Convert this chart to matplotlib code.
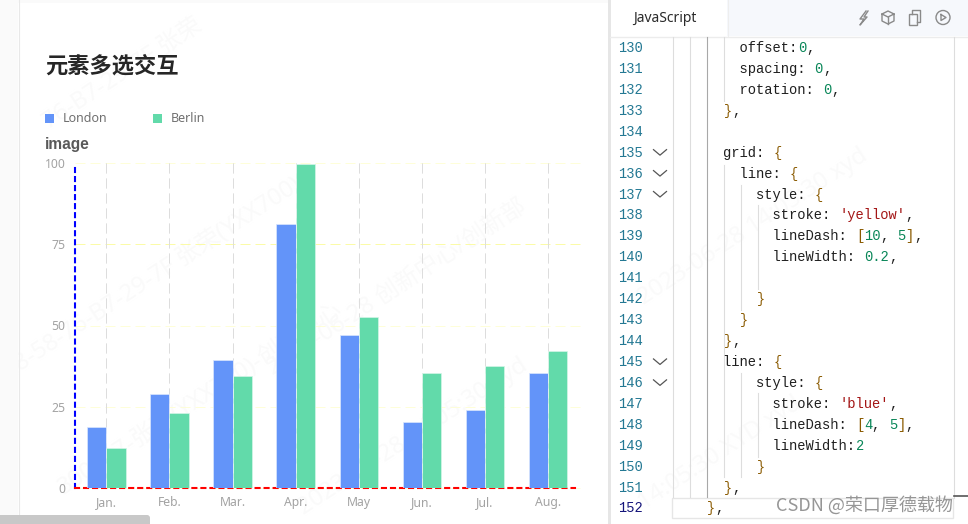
import re

import matplotlib
matplotlib.use('Agg')
import matplotlib.pyplot as plt
from matplotlib.patches import FancyBboxPatch, Rectangle, Circle

plt.rcParams['font.family'] = ['Noto Sans', 'Noto Sans CJK SC', 'DejaVu Sans']
plt.rcParams['lines.scale_dashes'] = False

months = ['Jan.', 'Feb.', 'Mar.', 'Apr.', 'May', 'Jun.', 'Jul.', 'Aug.']
london = [18.9, 28.9, 39.4, 81.3, 47.0, 20.3, 24.0, 35.5]
berlin = [12.3, 23.0, 34.5, 99.6, 52.6, 35.5, 37.4, 42.3]
y_ticks = [0, 25, 50, 75, 100]

first_line_no = 130
code_lines = [
    "      offset:0,",
    "      spacing: 0,",
    "      rotation: 0,",
    "    },",
    "",
    "    grid: {",
    "      line: {",
    "        style: {",
    "          stroke: 'yellow',",
    "          lineDash: [10, 5],",
    "          lineWidth: 0.2,",
    "",
    "        }",
    "      }",
    "    },",
    "    line: {",
    "        style: {",
    "          stroke: 'blue',",
    "          lineDash: [4, 5],",
    "          lineWidth:2",
    "        }",
    "    },",
    "  },",
]
folded = [135, 136, 137, 145, 146]

watermarks = [
    (45, 125, "76-B7-29-7F 张荣"),
    (5, 375, "C8-58-76-B7-29-7F 张荣(YXX700)"),
    (60, 490, "300007-张荣(YXX700)-创新中心"),
    (270, 370, "2023-06-28 创新中心/创新部"),
    (300, 510, "2023-06-28 14:05:30 xyd"),
    (640, 300, "2023-06-28 14:05:30 xyd"),
    (640, 505, "14:05:30 XYD xyd"),
]

BLUE = '#6394f9'
GREEN = '#62daaa'
W, H = 968, 524

fig = plt.figure(figsize=(W / 100, H / 100), dpi=100, facecolor='white')

# page background, in pixel coords
bg = fig.add_axes([0, 0, 1, 1], zorder=0)
bg.set_xlim(0, W)
bg.set_ylim(H, 0)
bg.axis('off')

bg.add_patch(Rectangle((0, 0), 18, H, fc='#fafafa', ec='none'))
bg.plot([18.5, 18.5], [0, H], color='#e8e8e8', lw=0.8)
bg.add_patch(Rectangle((0, 0), 609, 3, fc='#fafafa', ec='none'))
bg.add_patch(Rectangle((608, 0), 2.5, H, fc='#e6e6e6', ec='none'))

for x, y, txt in watermarks:
    bg.text(x, y, txt, color='#fafafa', fontsize=17, rotation=33,
            rotation_mode='anchor', ha='left', va='center', zorder=1)

# titles and legend
bg.text(45, 66, '元素多选交互', fontsize=16, fontweight='bold', color='#262626',
        family=['Noto Sans CJK SC', 'DejaVu Sans'], va='center')
bg.add_patch(Rectangle((45, 113.5), 9, 9, fc=BLUE, ec='none'))
bg.text(63, 118, 'London', fontsize=9, color='#707070', va='center')
bg.add_patch(Rectangle((153, 113.5), 9, 9, fc=GREEN, ec='none'))
bg.text(171, 118, 'Berlin', fontsize=9, color='#707070', va='center')
bg.text(45, 144, 'image', fontsize=11.2, fontweight='bold', color='#595959', va='center',
        family='Liberation Sans')

# chart
left, right, top, bottom = 74.7, 579.8, 163, 488
ax = fig.add_axes([left / W, 1 - bottom / H, (right - left) / W, (bottom - top) / H], zorder=2)
ax.patch.set_alpha(0)
ax.set_xlim(-0.5, len(months) - 0.5)
ax.set_ylim(0, 100)

pos = list(range(len(months)))
bar_w = 0.305
ax.bar([p - bar_w / 2 for p in pos], london, bar_w, color=BLUE, edgecolor='#dbe6fd',
       linewidth=0.5, zorder=3)
ax.bar([p + bar_w / 2 for p in pos], berlin, bar_w, color=GREEN, edgecolor='#d5f5e8',
       linewidth=0.5, zorder=3)

ax.set_yticks(y_ticks)
ax.set_xticks(pos)
ax.set_xticklabels(months)
ax.tick_params(axis='both', length=0, labelsize=8.8, labelcolor='#a3a3a3')
ax.tick_params(axis='x', pad=6)
ax.tick_params(axis='y', pad=6.5)

for v in y_ticks:
    ax.axhline(v, color='#fbfba6' if v == 75 else '#fefed8', lw=0.7,
               dashes=(7.2, 3.6), zorder=1, clip_on=False)
for p in pos:
    ax.axvline(p, color='#c8c8c8', lw=0.7, dashes=(7.2, 3.6), zorder=1)
    ax.plot([p, p], [0, 100], color='#ffffff', alpha=0.45, lw=0.6, dashes=(7.2, 3.6), zorder=4)

for side in ['top', 'right']:
    ax.spines[side].set_visible(False)
ax.spines['left'].set_color('blue')
ax.spines['left'].set_linewidth(1.5)
ax.spines['left'].set_linestyle((0, (2.9, 3.6)))
ax.spines['bottom'].set_color('red')
ax.spines['bottom'].set_linewidth(1.5)
ax.spines['bottom'].set_linestyle((0, (2.9, 3.6)))
ax.spines['left'].set_bounds(0, 99.4)
ax.spines['bottom'].set_bounds(-0.5, 7.42)

# code editor panel on top of everything in the right hand part
ed = fig.add_axes([0, 0, 1, 1], zorder=3)
ed.set_xlim(0, W)
ed.set_ylim(H, 0)
ed.axis('off')
ed.patch.set_alpha(0)

ed.add_patch(Rectangle((727, 0), W - 727, 36, fc='#f6f8fc', ec='none'))
ed.plot([610, W], [36.5, 36.5], color='#ececec', lw=1)
ed.plot([727.5, 727.5], [0, 36], color='#eeeeee', lw=0.8)
ed.text(633, 18, 'JavaScript', fontsize=10, color='#2b2b2b', va='center')

# toolbar icons
ed.plot([866, 860, 864, 860, 867, 864, 868], [11, 19, 19, 25, 17, 17, 11], color='#8a8a8a', lw=1)
ed.plot([882, 888, 894, 894, 888, 882, 882, 888, 894], [14, 11, 14, 21, 24, 21, 14, 17, 14],
        color='#8a8a8a', lw=1)
ed.plot([888, 888], [17, 24], color='#8a8a8a', lw=1)
ed.add_patch(Rectangle((909, 14), 8, 11, fc='none', ec='#8a8a8a', lw=1))
ed.plot([912, 912, 920, 920, 917], [14, 10, 10, 22, 22], color='#8a8a8a', lw=1)
ed.add_patch(Circle((943, 17.5), 7, fc='none', ec='#8a8a8a', lw=1))
ed.plot([941, 941, 946, 941], [14.5, 20.5, 17.5, 14.5], color='#8a8a8a', lw=1)

# indent guides
row_h = 20.93
y0 = 48
for x in [672.5, 689.5, 706.5]:
    ed.plot([x, x], [37, 497], color='#a8a8a8' if x == 706.5 else '#dddddd', lw=0.8)
ed.plot([723.5, 723.5], [37, 101], color='#dddddd', lw=0.8)
ed.plot([723.5, 723.5], [165, 477], color='#dddddd', lw=0.8)
ed.plot([740.5, 740.5], [185, 310], color='#dddddd', lw=0.8)
ed.plot([740.5, 740.5], [373, 477], color='#dddddd', lw=0.8)
ed.plot([757.5, 757.5], [205, 289], color='#dddddd', lw=0.8)
ed.plot([757.5, 757.5], [393, 457], color='#dddddd', lw=0.8)
ed.plot([953.5, 953.5], [37, 498], color='#dddddd', lw=0.8)
ed.add_patch(Rectangle((672, 498), 281, 20, fc='none', ec='#e6e6e6', lw=1))
ed.plot([954, W], [495.5, 495.5], color='#555555', lw=1.2)

colors = {'num': '#098658', 'str': '#a31515', 'brk': '#8a5a00', 'txt': '#1f1f1f'}
token_re = re.compile(r"('[^']*')|(\d+\.?\d*)|([{}\[\]])|([^'\d{}\[\]]+)")
char_w = 8.27
code_x = 690.5

for i, line in enumerate(code_lines):
    y = y0 + i * row_h
    no = first_line_no + i
    ed.text(618, y, str(no), family='Liberation Mono', fontsize=9.9, va='center',
            color='#14147a' if no == 152 else '#237893')
    if no in folded:
        ed.plot([653.5, 660, 666.5], [y - 3, y + 2.5, y - 3], color='#555555', lw=0.9)
    for m in token_re.finditer(line):
        kind = ['str', 'num', 'brk', 'txt'][m.lastindex - 1]
        ed.text(code_x + m.start() * char_w, y, m.group(0), family='Liberation Mono',
                fontsize=9.9, va='center', color=colors[kind])

ed.text(953, 505.5, 'CSDN @荣口厚德载物', fontsize=13, color='#969696', ha='right', va='center',
        family=['Noto Sans CJK SC', 'DejaVu Sans'])

# horizontal scrollbar at the bottom of the chart
ed.add_patch(FancyBboxPatch((-6, 515), 156, 14, boxstyle='round,pad=0,rounding_size=3',
                            fc='#c8c8c8', ec='none'))

fig.savefig('out.png', dpi=100)
